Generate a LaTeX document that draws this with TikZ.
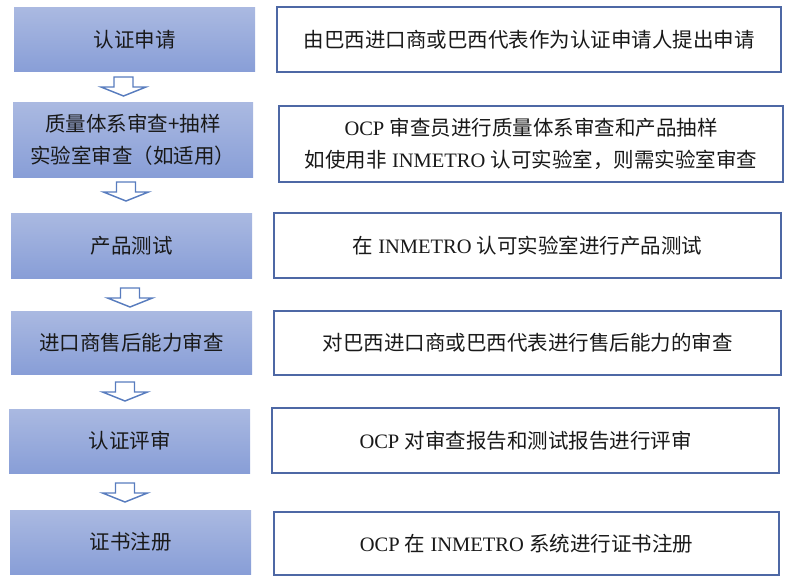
\documentclass[tikz,border=0pt]{standalone}
\usepackage{fontspec}
\setmainfont{Liberation Serif}
\newfontfamily\cjk{Noto Sans CJK SC}
\usetikzlibrary{calc}
\definecolor{boxtop}{RGB}{170,185,225}
\definecolor{boxbottom}{RGB}{136,158,215}
\definecolor{boxline}{RGB}{78,104,165}
\definecolor{arrowline}{RGB}{88,124,190}
\definecolor{txt}{RGB}{25,25,25}
\tikzset{
  stepbox/.style={top color=boxtop, bottom color=boxbottom, draw=none, text=txt,
    align=center, inner sep=0pt, font=\cjk\fontsize{20.5}{32}\selectfont},
  notebox/.style={draw=boxline, line width=1.5pt, fill=white, text=txt,
    align=center, inner sep=0pt, font=\fontsize{20.5}{32}\selectfont},
  flowarrow/.style={draw=arrowline, line width=1.4pt, fill=white, line join=miter}
}
\newcommand{\flowarrow}[2]{\draw[flowarrow] (#1,#2) ++(-9.5,0) -- ++(19,0) -- ++(0,10) -- ++(13,0) -- ++(-22.5,9) -- ++(-22.5,-9) -- ++(13,0) -- cycle;}

\begin{document}
\begin{tikzpicture}[x=1pt, y=-1pt]
  \useasboundingbox (0,0) rectangle (796,578);
  % step 1
  \node[stepbox, minimum width=241, minimum height=64] (l1) at (134.5,40) {认证申请};
  \node[notebox, minimum width=504, minimum height=65] (r1) at (529,39.5)
    {\cjk 由巴西进口商或巴西代表作为认证申请人提出申请};
  % step 2
  \node[stepbox, minimum width=240, minimum height=74] (l2) at (133,140)
    {质量体系审查+抽样\\实验室审查（如适用）};
  \node[notebox, minimum width=504, minimum height=76] (r2) at (531,144)
    {OCP {\cjk 审查员进行质量体系审查和产品抽样}\\{\cjk 如使用非} INMETRO {\cjk 认可实验室，则需实验室审查}};
  % step 3
  \node[stepbox, minimum width=241, minimum height=65] (l3) at (131.5,245.5) {产品测试};
  \node[notebox, minimum width=507, minimum height=65] (r3) at (527.5,245.5)
    {{\cjk 在} INMETRO {\cjk 认可实验室进行产品测试}};
  % step 4
  \node[stepbox, minimum width=241, minimum height=63] (l4) at (131.5,342.5) {进口商售后能力审查};
  \node[notebox, minimum width=507, minimum height=64] (r4) at (527.5,343)
    {\cjk 对巴西进口商或巴西代表进行售后能力的审查};
  % step 5
  \node[stepbox, minimum width=241, minimum height=64] (l5) at (129.5,441) {认证评审};
  \node[notebox, minimum width=507, minimum height=65] (r5) at (525.5,440.5)
    {OCP {\cjk 对审查报告和测试报告进行评审}};
  % step 6
  \node[stepbox, minimum width=241, minimum height=64] (l6) at (130.5,542) {证书注册};
  \node[notebox, minimum width=505, minimum height=63] (r6) at (526.5,543.5)
    {OCP {\cjk 在} INMETRO {\cjk 系统进行证书注册}};
  % arrows
  \flowarrow{123.5}{77}
  \flowarrow{126}{182}
  \flowarrow{130}{288}
  \flowarrow{125}{382}
  \flowarrow{125}{483}
\end{tikzpicture}
\end{document}
